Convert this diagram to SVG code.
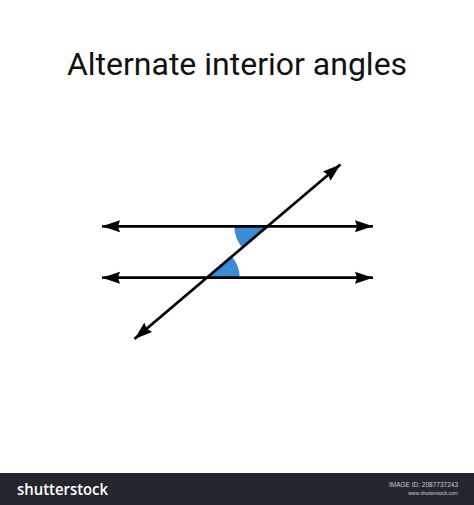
<svg xmlns="http://www.w3.org/2000/svg" width="474" height="505" viewBox="0 0 474 505">
  <style>
    .ln { stroke: #000; stroke-width: 2.8; fill: none; }
    .ang { fill: #3a8dd5; stroke: none; }
    .title { font-family: Roboto, "Liberation Sans", sans-serif; font-size: 32px; fill: #111; }
    .brand { font-family: "Open Sans", "Liberation Sans", sans-serif; font-weight: 600; fill: #fff; }
    .meta { font-family: "Liberation Sans", Arial, sans-serif; fill: #c9cacd; }
  </style>
  <defs>
    <marker id="ah" viewBox="-20 -7 21 14" refX="0" refY="0" markerWidth="21" markerHeight="14" markerUnits="userSpaceOnUse" orient="auto-start-reverse">
      <path d="M0,0 L-18,-6 L-16,0 L-18,6 Z" fill="#000"/>
    </marker>
  </defs>
  <rect x="0" y="0" width="474" height="505" fill="#fff"/>

  <g id="title">
    <text class="title" x="237" y="75" text-anchor="middle">Alternate interior angles</text>
  </g>

  <g id="angle-top">
    <path class="ang" d="M267.4,226.3 L234.4,226.3 A33,33 0 0 0 242.2,247.6 Z"/>
  </g>
  <g id="angle-bottom">
    <path class="ang" d="M206.7,277.7 L239.7,277.7 A33,33 0 0 0 231.9,256.4 Z"/>
  </g>

  <g id="connectors">
    <line id="line-top" class="ln" x1="102" y1="226.3" x2="373" y2="226.3" marker-start="url(#ah)" marker-end="url(#ah)"/>
    <line id="line-bottom" class="ln" x1="102" y1="277.7" x2="373" y2="277.7" marker-start="url(#ah)" marker-end="url(#ah)"/>
    <line id="transversal" class="ln" x1="134.5" y1="339" x2="340.4" y2="164.5" marker-start="url(#ah)" marker-end="url(#ah)"/>
  </g>

  <g id="footer">
    <rect x="0" y="473" width="474" height="32" fill="#23262e"/>
    <text class="brand" x="17" y="495" font-size="16" textLength="91" lengthAdjust="spacingAndGlyphs">shutterstock</text>
    <text class="meta" x="458" y="487" font-size="6.5" text-anchor="end">IMAGE ID: 2087737243</text>
    <text class="meta" x="458" y="495" font-size="5" text-anchor="end">www.shutterstock.com</text>
  </g>
</svg>
